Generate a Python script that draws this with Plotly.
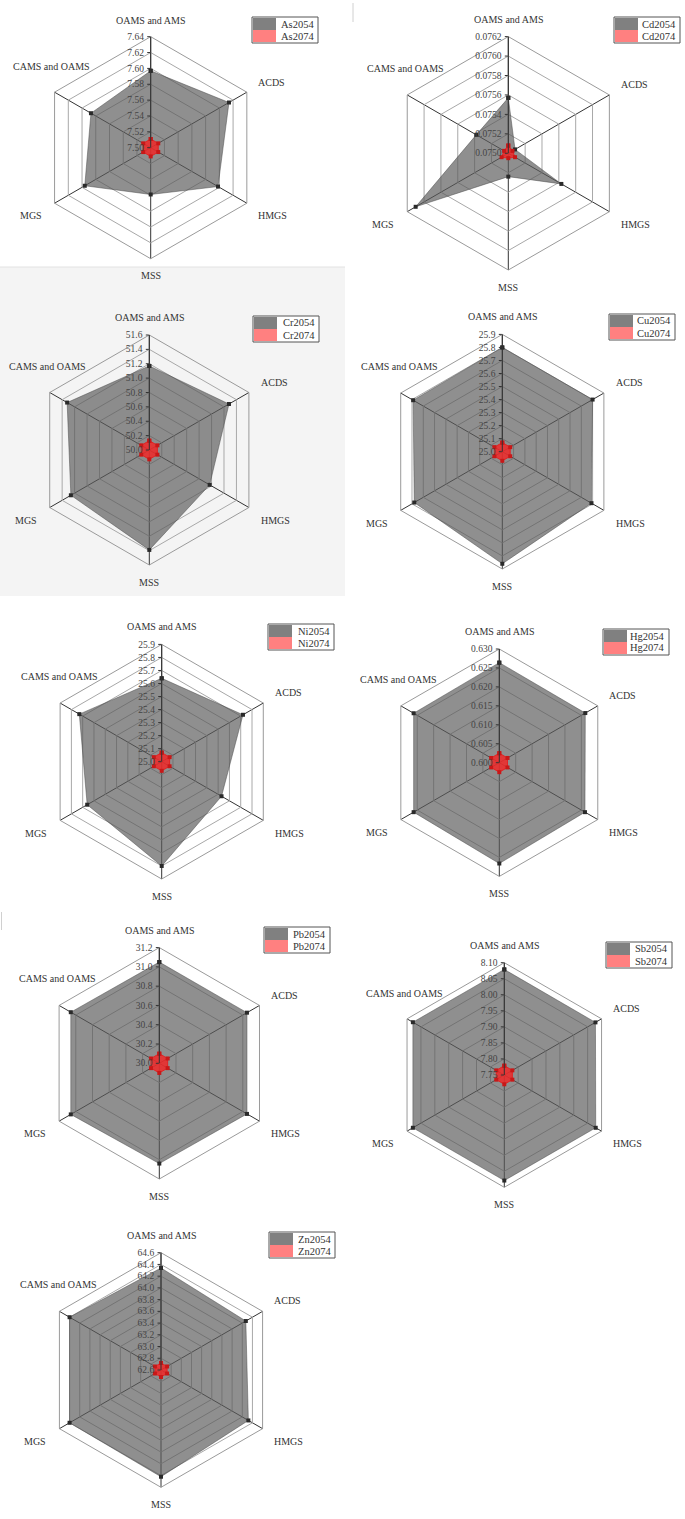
import plotly.graph_objects as go

# ---------------- data ----------------
categories = ["OAMS and AMS", "ACDS", "HMGS", "MSS", "MGS", "CAMS and OAMS"]

as_2054 = [7.597, 7.614, 7.598, 7.559, 7.596, 7.587]
as_2074 = [7.511, 7.511, 7.511, 7.511, 7.511, 7.511]

cd_2054 = [0.07557, 0.07508, 0.07563, 0.07524, 0.07610, 0.07538]
cd_2074 = [0.07508, 0.07505, 0.07508, 0.07505, 0.07508, 0.07505]

cr_2054 = [51.17, 51.28, 50.97, 51.39, 51.26, 51.32]
cr_2074 = [50.13, 50.13, 50.13, 50.13, 50.13, 50.13]

cu_2054 = [25.80, 25.80, 25.79, 25.86, 25.78, 25.79]
cu_2074 = [25.07, 25.07, 25.07, 25.07, 25.07, 25.07]

ni_2054 = [25.64, 25.72, 25.53, 25.80, 25.66, 25.73]
ni_2074 = [25.07, 25.07, 25.07, 25.07, 25.07, 25.07]

hg_2054 = [0.6264, 0.6262, 0.6261, 0.6266, 0.6261, 0.6261]
hg_2074 = [0.6025, 0.6025, 0.6025, 0.6025, 0.6025, 0.6025]

pb_2054 = [31.05, 31.05, 31.05, 31.04, 31.06, 31.06]
pb_2074 = [30.10, 30.10, 30.10, 30.10, 30.10, 30.10]

sb_2054 = [8.079, 8.078, 8.079, 8.079, 8.079, 8.079]
sb_2074 = [7.779, 7.779, 7.779, 7.779, 7.779, 7.779]

zn_2054 = [64.34, 64.27, 64.32, 64.42, 64.40, 64.40]
zn_2074 = [62.72, 62.72, 62.72, 62.72, 62.72, 62.72]

elements = ["As", "Cd", "Cr", "Cu", "Ni", "Hg", "Pb", "Sb", "Zn"]
series_2054 = [as_2054, cd_2054, cr_2054, cu_2054, ni_2054, hg_2054, pb_2054, sb_2054, zn_2054]
series_2074 = [as_2074, cd_2074, cr_2074, cu_2074, ni_2074, hg_2074, pb_2074, sb_2074, zn_2074]
radial_ranges = [[7.50, 7.64], [0.0750, 0.0762], [50.0, 51.6], [25.0, 25.9], [25.0, 25.9],
                 [0.600, 0.630], [30.0, 31.2], [7.75, 8.10], [62.6, 64.6]]
radial_dticks = [0.02, 0.0002, 0.2, 0.1, 0.1, 0.005, 0.2, 0.05, 0.2]
tick_formats = [".2f", ".4f", ".1f", ".1f", ".1f", ".3f", ".1f", ".2f", ".1f"]

# ---------------- layout geometry (pixels) ----------------
W, H = 685, 1519
centers = [(150.7, 147.7), (508.3, 153.3), (149.3, 450.0), (502.3, 451.7), (161.7, 761.7),
           (499.3, 762.7), (159.3, 1063.3), (504.3, 1075.0), (161.0, 1370.0)]
radii = [111, 116.7, 115, 117.3, 117.3, 113.7, 115.7, 112.3, 117.3]
legend_pos = [(252, 17), (614, 17), (253, 316), (609, 314), (268, 624),
              (603, 629), (264, 927), (606, 942), (269, 1232)]
# category label placement relative to centre (in units of radius) and anchor
label_offsets = [(0.0, -1.15, "center"), (0.95, -0.59, "left"), (0.95, 0.61, "left"),
                 (0.0, 1.15, "center"), (-0.96, 0.61, "right"), (-0.53, -0.73, "right")]

FONT = "Liberation Serif"
GRAY_FILL = "rgba(90,90,90,0.68)"
RED_FILL = "rgba(240,40,40,0.85)"


def px(x):
    return x / W


def py(y):
    return 1 - y / H


fig = go.Figure()
layout = dict(
    width=W, height=H, margin=dict(l=0, r=0, t=0, b=0),
    paper_bgcolor="white", plot_bgcolor="white", template="none",
    font=dict(family=FONT, size=10, color="#333333"), showlegend=False,
)

shapes = [
    dict(type="rect", xref="paper", yref="paper", x0=0, x1=px(345),
         y0=py(596), y1=py(267), fillcolor="#f4f4f4",
         line=dict(width=0), layer="below"),
    dict(type="line", xref="paper", yref="paper", x0=0, x1=px(345),
         y0=py(267), y1=py(267), line=dict(color="#e2e2e2", width=1), layer="below"),
    dict(type="line", xref="paper", yref="paper", x0=px(353), x1=px(353),
         y0=py(22), y1=py(3), line=dict(color="#d0d0d0", width=1), layer="below"),
    dict(type="line", xref="paper", yref="paper", x0=px(1.5), x1=px(1.5),
         y0=py(930), y1=py(912), line=dict(color="#d0d0d0", width=1), layer="below"),
]
annotations = []

for i, el in enumerate(elements):
    pid = "polar" if i == 0 else f"polar{i + 1}"
    cx, cy = centers[i]
    r = radii[i]
    theta_closed = categories + [categories[0]]
    v1 = series_2054[i] + [series_2054[i][0]]
    v2 = series_2074[i] + [series_2074[i][0]]
    fig.add_trace(go.Scatterpolar(
        r=v1, theta=theta_closed, subplot=pid, name=f"{el}2054",
        mode="lines+markers", fill="toself", fillcolor=GRAY_FILL,
        line=dict(color="rgba(70,70,70,0.6)", width=0.8),
        marker=dict(color="#2a2a2a", size=4, symbol="square"),
    ))
    fig.add_trace(go.Scatterpolar(
        r=v2, theta=theta_closed, subplot=pid, name=f"{el}2074",
        mode="lines+markers", fill="toself", fillcolor=RED_FILL,
        line=dict(color="rgba(230,30,30,0.9)", width=1),
        marker=dict(color="#c81818", size=4, symbol="square"),
    ))
    layout[pid] = dict(
        domain=dict(x=[px(cx - r), px(cx + r)], y=[py(cy + r), py(cy - r)]),
        gridshape="linear",
        bgcolor="rgba(0,0,0,0)",
        angularaxis=dict(
            direction="clockwise", rotation=90, type="category",
            categoryorder="array", categoryarray=categories,
            showline=True, linecolor="#9a9a9a", linewidth=1,
            gridcolor="#333333", gridwidth=1,
            ticks="", showticklabels=False,
        ),
        radialaxis=dict(
            range=radial_ranges[i], dtick=radial_dticks[i], tick0=radial_ranges[i][0],
            tickformat=tick_formats[i], angle=90, side="counterclockwise", tickangle=90,
            showline=True, linecolor="#333333", linewidth=1,
            gridcolor="#a8a8a8", gridwidth=0.8,
            ticks="outside", ticklen=3, tickcolor="#333333",
            tickfont=dict(family=FONT, size=9.5, color="#444444"),
        ),
    )
    # category labels
    for cat, (ox, oy, anc) in zip(categories, label_offsets):
        annotations.append(dict(
            text=cat, xref="paper", yref="paper", x=px(cx + ox * r), y=py(cy + oy * r),
            xanchor=anc, yanchor="middle", showarrow=False,
            font=dict(family=FONT, size=10, color="#333333"),
        ))
    # legend box
    lx, ly = legend_pos[i]
    bw, bh = 66, 26
    shapes.append(dict(type="rect", xref="paper", yref="paper",
                       x0=px(lx), x1=px(lx + bw), y0=py(ly + bh), y1=py(ly),
                       fillcolor="white", line=dict(color="#555555", width=1)))
    for k, (nm, col) in enumerate([(f"{el}2054", "#808080"), (f"{el}2074", "#ff8080")]):
        y0 = ly + 1 + k * 12
        shapes.append(dict(type="rect", xref="paper", yref="paper",
                           x0=px(lx + 1), x1=px(lx + 24), y0=py(y0 + 12), y1=py(y0),
                           fillcolor=col, line=dict(width=0)))
        annotations.append(dict(
            text=nm, xref="paper", yref="paper", x=px(lx + bw - 2), y=py(y0 + 6),
            xanchor="right", yanchor="middle", showarrow=False,
            font=dict(family=FONT, size=10.5, color="#333333"),
        ))

layout["shapes"] = shapes
layout["annotations"] = annotations
fig.update_layout(**layout)
fig.write_html("out.html")
